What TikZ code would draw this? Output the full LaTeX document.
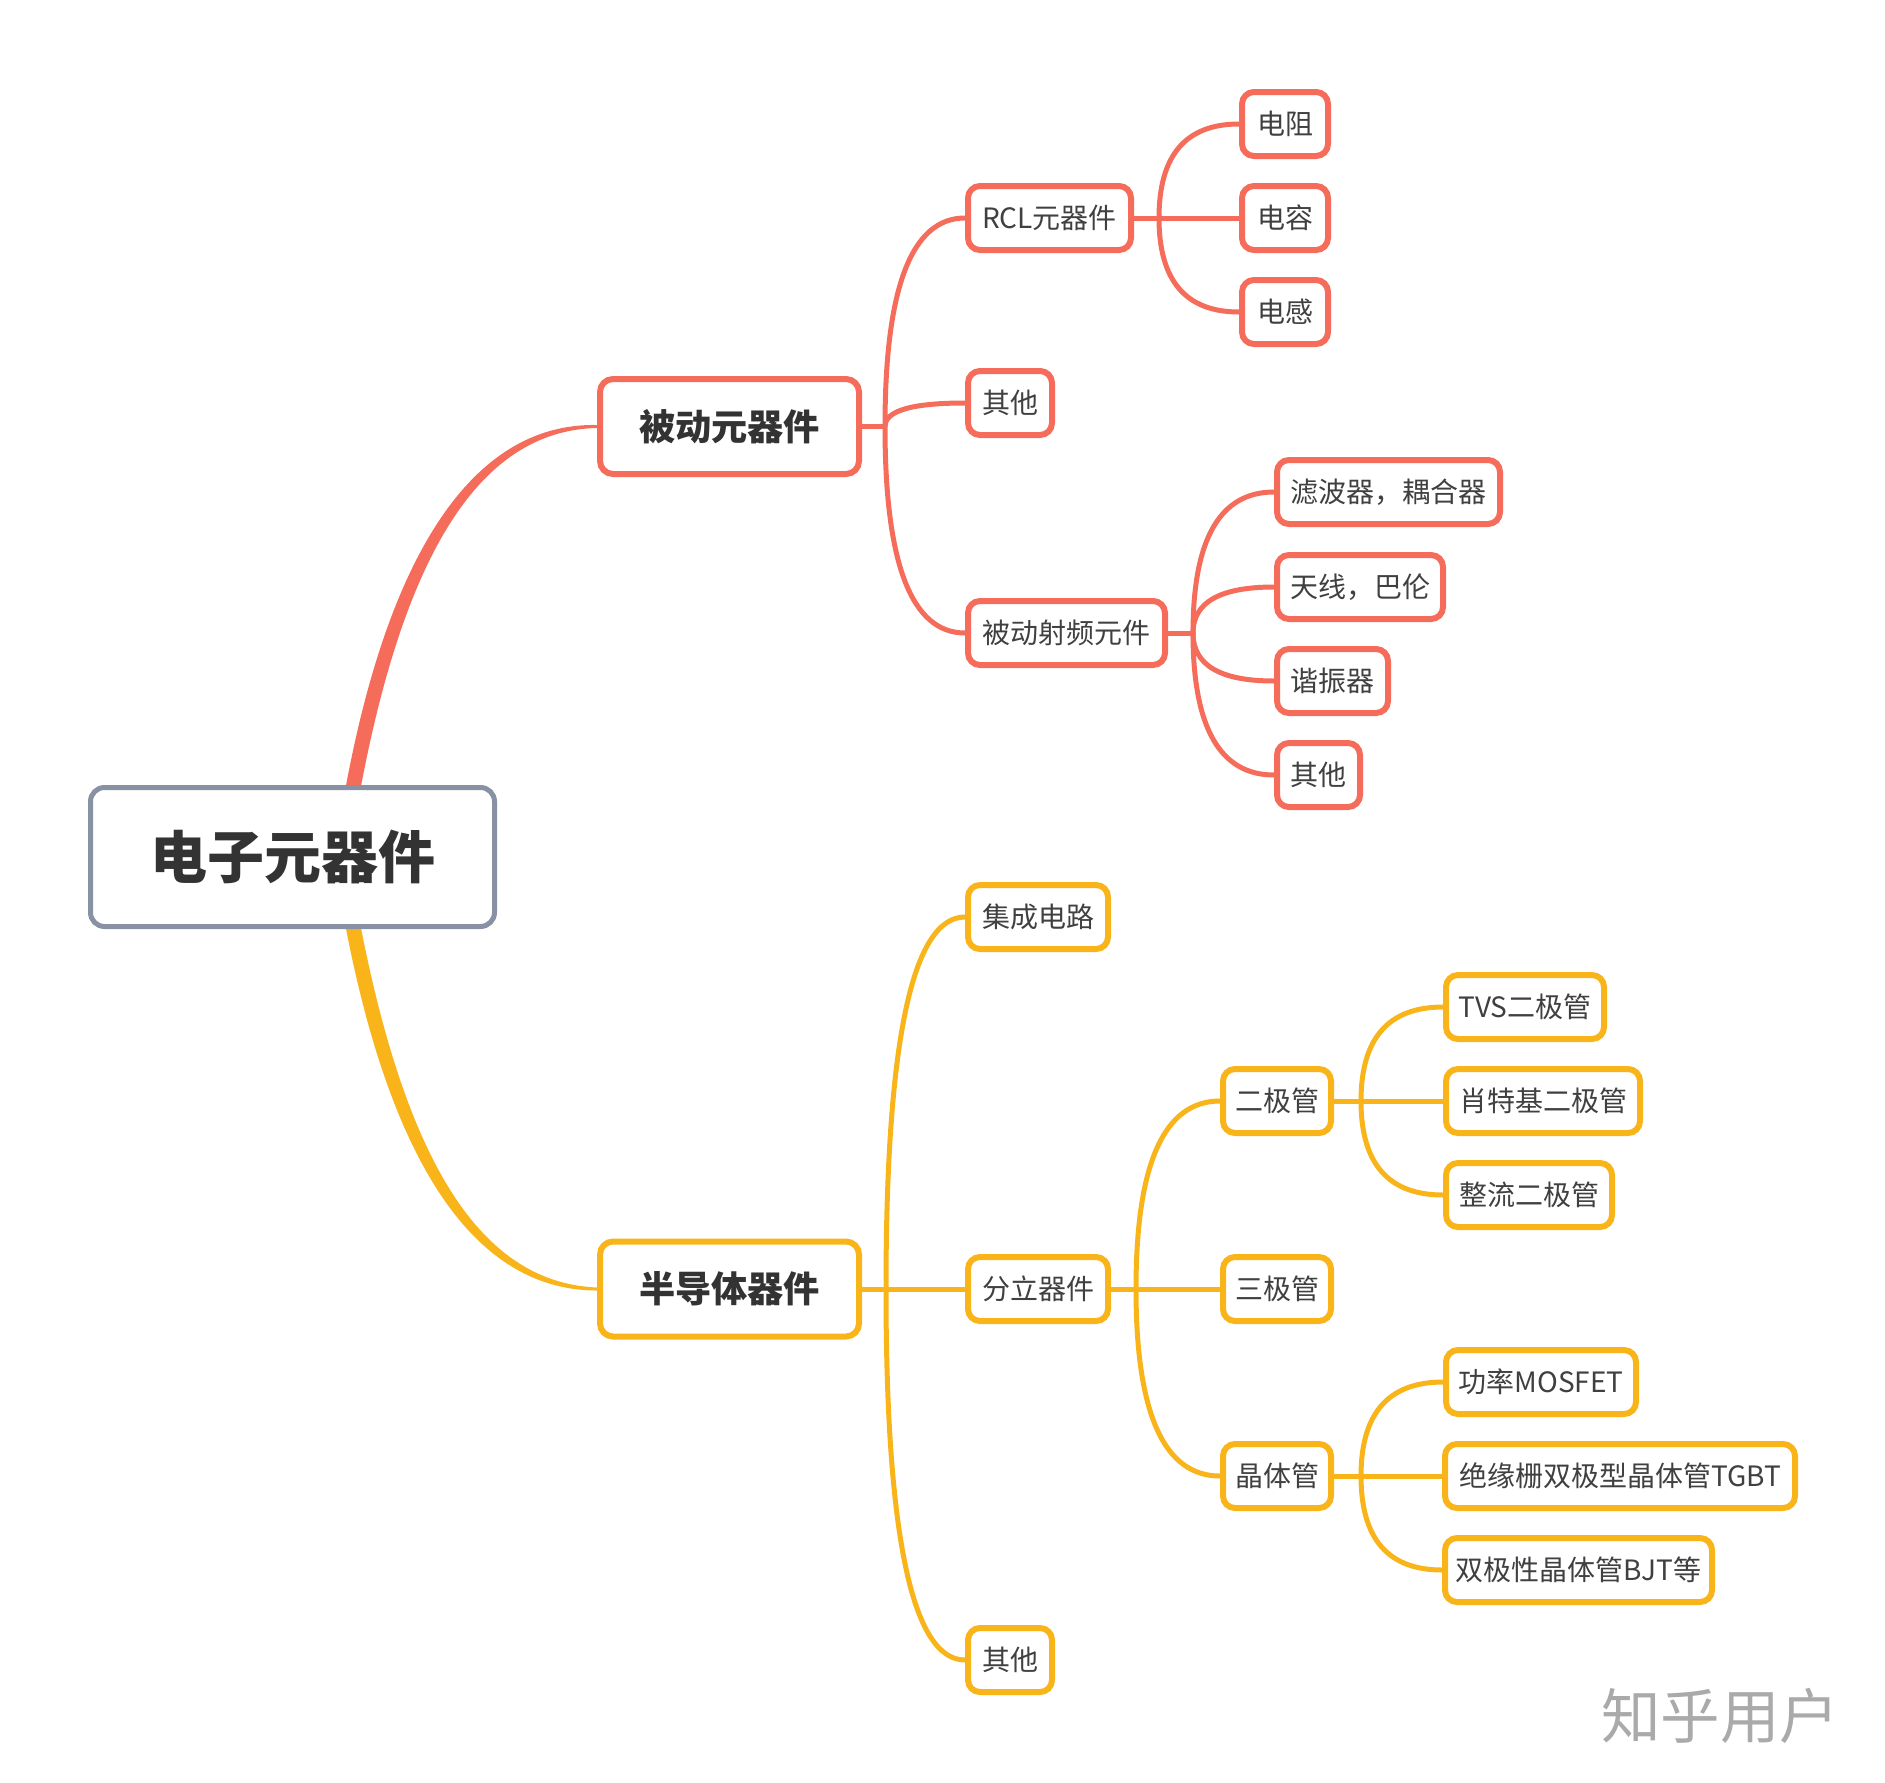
\documentclass[tikz,border=0pt]{standalone}
\usepackage{fontspec}
\setmainfont{Noto Sans CJK SC}
\usetikzlibrary{calc}
\definecolor{cred}{RGB}{246,108,90}
\definecolor{cyel}{RGB}{248,180,24}
\definecolor{croot}{RGB}{136,146,164}
\definecolor{ctxt}{RGB}{51,51,51}
\definecolor{ctxtb}{RGB}{64,64,64}
\definecolor{cwm}{RGB}{170,170,170}
\pgfdeclarelayer{canvas}
\pgfdeclarelayer{bg}
\pgfsetlayers{canvas,bg,main}
\newcommand\mmbr[3]{\draw[#1] (#2) .. controls ($(#2)!0.667!(#2|-#3.west)$) and ($(#3.west)!0.667!(#2|-#3.west)$) .. (#3.west);}
\tikzset{
 rootbox/.style={draw=croot, line width=5pt, rounded corners=14pt, fill=white, minimum width=404pt, minimum height=139pt, inner sep=0pt, font=\fontsize{57}{68}\selectfont\bfseries, text=ctxt},
 lonebox/.style={draw=#1, line width=6pt, rounded corners=13pt, fill=white, minimum height=95pt, inner sep=0pt, font=\fontsize{36.2}{43}\selectfont\bfseries, text=ctxt},
 ltwobox/.style={draw=#1, line width=6pt, rounded corners=12pt, fill=white, minimum height=64pt, inner sep=0pt, font=\fontsize{28}{34}\selectfont, text=ctxtb},
 conn/.style={draw=#1, line width=5pt},
 wmtext/.style={font=\fontsize{59.5}{70}\selectfont, text=cwm, inner sep=0pt},
}
\begin{document}
\begin{tikzpicture}[x=1pt,y=-1pt]
\begin{pgfonlayer}{canvas}
\fill[white] (0,0) rectangle (1885,1783);
\end{pgfonlayer}
\useasboundingbox (0,0) rectangle (1885,1783);
% root and level 1
\node[rootbox] (root) at (292.5,857) {电子元器件};
\node[lonebox=cred, minimum width=259pt] (p1) at (729.5,426.5) {被动元器件};
\node[lonebox=cyel, minimum width=259pt] (s1) at (729.5,1289) {半导体器件};
% passive branch
\node[ltwobox=cred, minimum width=163pt] (rcl) at (1049.5,218) {RCL元器件};
\node[ltwobox=cred, minimum width=86pt] (r1) at (1285,124) {电阻};
\node[ltwobox=cred, minimum width=86pt] (r2) at (1285,218) {电容};
\node[ltwobox=cred, minimum width=86pt] (r3) at (1285,312) {电感};
\node[ltwobox=cred, minimum width=84pt] (po) at (1010,403) {其他};
\node[ltwobox=cred, minimum width=197pt] (rf) at (1066.5,633) {被动射频元件};
\node[ltwobox=cred, minimum width=223pt] (f1) at (1388.5,492) {滤波器，耦合器};
\node[ltwobox=cred, minimum width=166pt] (f2) at (1360,587) {天线，巴伦};
\node[ltwobox=cred, minimum width=111pt] (f3) at (1332.5,681) {谐振器};
\node[ltwobox=cred, minimum width=83pt] (f4) at (1318.5,775) {其他};
% semiconductor branch
\node[ltwobox=cyel, minimum width=140pt] (ic) at (1038,917) {集成电路};
\node[ltwobox=cyel, minimum width=140pt] (dc) at (1038,1289) {分立器件};
\node[ltwobox=cyel, minimum width=84pt] (so) at (1010,1660) {其他};
\node[ltwobox=cyel, minimum width=108pt] (d) at (1277,1101) {二极管};
\node[ltwobox=cyel, minimum width=108pt] (t3) at (1277,1289) {三极管};
\node[ltwobox=cyel, minimum width=108pt] (tr) at (1277,1476) {晶体管};
\node[ltwobox=cyel, minimum width=158pt] (d1) at (1525,1007) {TVS二极管};
\node[ltwobox=cyel, minimum width=194pt] (d2) at (1543,1101) {肖特基二极管};
\node[ltwobox=cyel, minimum width=166pt] (d3) at (1529,1195) {整流二极管};
\node[ltwobox=cyel, minimum width=190pt] (m1) at (1541,1382) {功率MOSFET};
\node[ltwobox=cyel, minimum width=350pt] (m2) at (1620,1476) {绝缘栅双极型晶体管TGBT};
\node[ltwobox=cyel, minimum width=267pt] (m3) at (1578.5,1570) {双极性晶体管BJT等};
% watermark
\node[wmtext] (wm) at (1720,1716) {知乎用户};
% fork points
\coordinate (rt) at (350,805);
\coordinate (rb) at (350,910);
\coordinate (fp1) at ($(p1.east)+(23,0)$);
\coordinate (frcl) at ($(rcl.east)+(25,0)$);
\coordinate (frf) at ($(rf.east)+(25,0)$);
\coordinate (fs1) at ($(s1.east)+(24,0)$);
\coordinate (fdc) at ($(dc.east)+(25,0)$);
\coordinate (fd) at ($(d.east)+(27,0)$);
\coordinate (ftr) at ($(tr.east)+(27,0)$);
\begin{pgfonlayer}{bg}
% thick tapered main branches
\fill[cred] ($(rt)+(-7.5,0)$) .. controls (385,560) and (470,422.5) .. ($(p1.west)+(0,-1.5)$) -- ($(p1.west)+(0,1.5)$) .. controls (476,430.5) and (401,562) .. ($(rt)+(7.5,0)$) -- cycle;
\fill[cyel] ($(rb)+(-7.5,0)$) .. controls (386,1150) and (468,1290.5) .. ($(s1.west)+(0,1.5)$) -- ($(s1.west)+(0,-1.5)$) .. controls (474,1282.5) and (402,1148) .. ($(rb)+(7.5,0)$) -- cycle;
% passive connectors
\draw[conn=cred] (p1.east) -- (fp1);
\mmbr{conn=cred}{fp1}{rcl}
\mmbr{conn=cred}{fp1}{po}
\mmbr{conn=cred}{fp1}{rf}
\draw[conn=cred] (rcl.east) -- (frcl) -- (r2.west);
\mmbr{conn=cred}{frcl}{r1}
\mmbr{conn=cred}{frcl}{r3}
\draw[conn=cred] (rf.east) -- (frf);
\mmbr{conn=cred}{frf}{f1}
\mmbr{conn=cred}{frf}{f2}
\mmbr{conn=cred}{frf}{f3}
\mmbr{conn=cred}{frf}{f4}
% semiconductor connectors
\draw[conn=cyel] (s1.east) -- (fs1) -- (dc.west);
\mmbr{conn=cyel}{fs1}{ic}
\mmbr{conn=cyel}{fs1}{so}
\draw[conn=cyel] (dc.east) -- (fdc) -- (t3.west);
\mmbr{conn=cyel}{fdc}{d}
\mmbr{conn=cyel}{fdc}{tr}
\draw[conn=cyel] (d.east) -- (fd) -- (d2.west);
\mmbr{conn=cyel}{fd}{d1}
\mmbr{conn=cyel}{fd}{d3}
\draw[conn=cyel] (tr.east) -- (ftr) -- (m2.west);
\mmbr{conn=cyel}{ftr}{m1}
\mmbr{conn=cyel}{ftr}{m3}
\end{pgfonlayer}
\end{tikzpicture}
\end{document}
